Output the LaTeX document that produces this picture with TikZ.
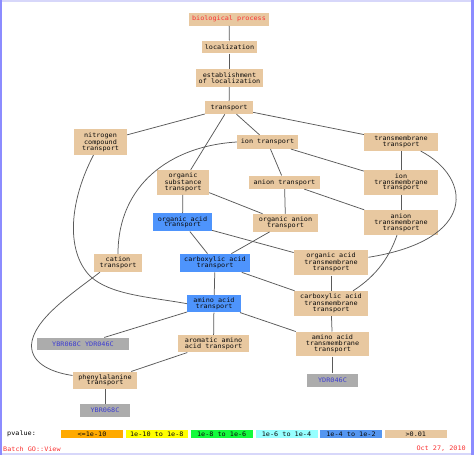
\documentclass[tikz,border=0pt]{standalone}
\usepackage{fontspec}
\usetikzlibrary{calc}
\newfontfamily\gofont[FakeStretch=1.1]{DejaVu Sans Mono}
\definecolor{tanc}{RGB}{232,200,160}
\definecolor{bluec}{RGB}{78,148,252}
\definecolor{grayc}{RGB}{172,172,172}
\definecolor{gored}{RGB}{250,50,50}
\definecolor{gotext}{RGB}{10,10,10}
\definecolor{genec}{RGB}{60,60,210}
\definecolor{edgec}{RGB}{90,90,90}
\definecolor{framea}{RGB}{140,140,255}
\definecolor{frameb}{RGB}{215,215,250}
\definecolor{lgorange}{RGB}{255,170,0}
\definecolor{lgyellow}{RGB}{255,255,0}
\definecolor{lggreen}{RGB}{20,250,60}
\definecolor{lgcyan}{RGB}{150,255,255}
\definecolor{lgblue}{RGB}{85,150,240}
\begin{document}
\begin{tikzpicture}[x=1pt,y=-1pt,
  box/.style={inner sep=0pt, align=center, text=gotext,
    font=\gofont\fontsize{6.2}{5.9}\selectfont},
  tanbox/.style={box, fill=tanc},
  bluebox/.style={box, fill=bluec},
  genebox/.style={box, fill=grayc, text=genec},
  lgbox/.style={box, minimum height=7.7pt, minimum width=62pt},
  edge/.style={draw=edgec, line width=0.75pt},
  lbl/.style={inner sep=0pt, font=\gofont\fontsize{6.2}{5.9}\selectfont}]
\fill[white] (0,0) rectangle (474,455);
\useasboundingbox (0,0) rectangle (474,455);
\fill[frameb] (0,0) rectangle (474,2);
\fill[frameb] (0,453) rectangle (474,455);
\fill[framea] (0,0) rectangle (2,455);
\fill[framea] (471,0) rectangle (474,455);

% nodes
\node[tanbox, text=gored, minimum width=80pt, minimum height=13pt] (bp) at (229,19.2) {biological process};
\node[tanbox, minimum width=55pt, minimum height=12.6pt] (loc) at (229.5,47) {localization};
\node[tanbox, minimum width=67pt, minimum height=17.7pt] (est) at (229.5,78) {establishment\\of localization};
\node[tanbox, minimum width=48pt, minimum height=13pt] (tr) at (229,107.5) {transport};
\node[tanbox, minimum width=53pt, minimum height=25.7pt] (nit) at (100.5,142) {nitrogen\\compound\\transport};
\node[tanbox, minimum width=61pt, minimum height=13.7pt] (ion) at (267.5,142) {ion transport};
\node[tanbox, minimum width=74pt, minimum height=17.7pt] (tm) at (401,142) {transmembrane\\transport};
\node[tanbox, minimum width=52pt, minimum height=24.7pt] (os) at (183,182.3) {organic\\substance\\transport};
\node[tanbox, minimum width=71pt, minimum height=13.3pt] (an) at (284.5,182.3) {anion transport};
\node[tanbox, minimum width=74pt, minimum height=24.7pt] (itm) at (401,182.3) {ion\\transmembrane\\transport};
\node[bluebox, minimum width=59pt, minimum height=18pt] (oa) at (182.5,222.3) {organic acid\\transport};
\node[tanbox, minimum width=65pt, minimum height=17.7pt] (oan) at (285.5,222.8) {organic anion\\transport};
\node[tanbox, minimum width=74pt, minimum height=25pt] (atm) at (401,222.5) {anion\\transmembrane\\transport};
\node[tanbox, minimum width=47.7pt, minimum height=18pt] (cat) at (118,263) {cation\\transport};
\node[bluebox, minimum width=70pt, minimum height=18.3pt] (ca) at (215,263) {carboxylic acid\\transport};
\node[tanbox, minimum width=74.3pt, minimum height=25.3pt] (oatm) at (331,262.7) {organic acid\\transmembrane\\transport};
\node[bluebox, minimum width=53.3pt, minimum height=17.3pt] (aa) at (214,303.7) {amino acid\\transport};
\node[tanbox, minimum width=73.7pt, minimum height=25pt] (catm) at (331,303.5) {carboxylic acid\\transmembrane\\transport};
\node[genebox, minimum width=91.7pt, minimum height=12.7pt] (g1) at (83,344) {YBR068C YDR046C};
\node[tanbox, minimum width=71.6pt, minimum height=17.3pt] (aro) at (213.5,343.7) {aromatic amino\\acid transport};
\node[tanbox, minimum width=73.6pt, minimum height=24.6pt] (aatm) at (332.5,344) {amino acid\\transmembrane\\transport};
\node[tanbox, minimum width=64.6pt, minimum height=17.3pt] (phe) at (105,380.3) {phenylalanine\\transport};
\node[genebox, minimum width=51pt, minimum height=13.3pt] (g2) at (332.5,380.3) {YDR046C};
\node[genebox, minimum width=50.6pt, minimum height=13pt] (g3) at (105,410.5) {YBR068C};

% edges
\draw[edge] (bp) -- (loc);
\draw[edge] (loc) -- (est);
\draw[edge] (est) -- (tr);
\draw[edge] (tr) -- (nit);
\draw[edge] (tr) -- (ion);
\draw[edge] (tr) -- (tm);
\draw[edge] (tr) -- (os);
\draw[edge] (ion) -- (an);
\draw[edge] (ion) -- (itm);
\draw[edge] (tm) -- (itm);
\draw[edge] (os) -- (oa);
\draw[edge] (os) -- (oan);
\draw[edge] (an) -- (oan);
\draw[edge] (an) -- (atm);
\draw[edge] (itm) -- (atm);
\draw[edge] (oa) -- (ca);
\draw[edge] (oa) -- (oatm);
\draw[edge] (oan) -- (ca);
\draw[edge] (ca) -- (aa);
\draw[edge] (ca) -- (catm);
\draw[edge] (oatm) -- (catm);
\draw[edge] (aa) -- (g1);
\draw[edge] (aa) -- (aro);
\draw[edge] (aa) -- (aatm);
\draw[edge] (catm) -- (aatm);
\draw[edge] (aro) -- (phe);
\draw[edge] (phe) -- (g3);
\draw[edge] (aatm) -- (g2);
% curved edges
\draw[edge] (ion.west) .. controls (170,146) and (118,185) .. (cat.north);
\draw[edge] ($(tm.south)+(19.7,0)$) .. controls (472,178) and (478,240) .. (oatm.east |- 0,257.3);
\draw[edge] ($(nit.south)+(-7,0)$) .. controls (70,200) and (65,250) .. (90,276)
   .. controls (110,295) and (150,297) .. (aa.west);
\draw[edge] ($(cat.south)+(-18,0)$) .. controls (70,295) and (33,320) .. (31.5,345)
   .. controls (31,365) and (55,373) .. ($(phe.north west)+(0,4)$);
\draw[edge] ($(atm.south)+(-4,0)$) .. controls (390,255) and (378,275) .. ($(catm.north)+(22,0)$);

% legend
\node[lbl, anchor=west] (pv) at (7,433.8) {pvalue:};
\node[lgbox, fill=lgorange] (l1) at (92,433.8) {<=1e-10};
\node[lgbox, fill=lgyellow] (l2) at (156.8,433.8) {1e-10 to 1e-8};
\node[lgbox, fill=lggreen] (l3) at (221.7,433.8) {1e-8 to 1e-6};
\node[lgbox, fill=lgcyan] (l4) at (286.5,433.8) {1e-6 to 1e-4};
\node[lgbox, fill=lgblue] (l5) at (351,433.8) {1e-4 to 1e-2};
\node[lgbox, fill=tanc] (l6) at (415.8,433.8) {>0.01};
\node[lbl, anchor=west, text=gored] (bt) at (3,449) {Batch GO::View};
\node[lbl, anchor=east, text=gored] (dt) at (466,449) {Oct 27, 2010};
\end{tikzpicture}
\end{document}
